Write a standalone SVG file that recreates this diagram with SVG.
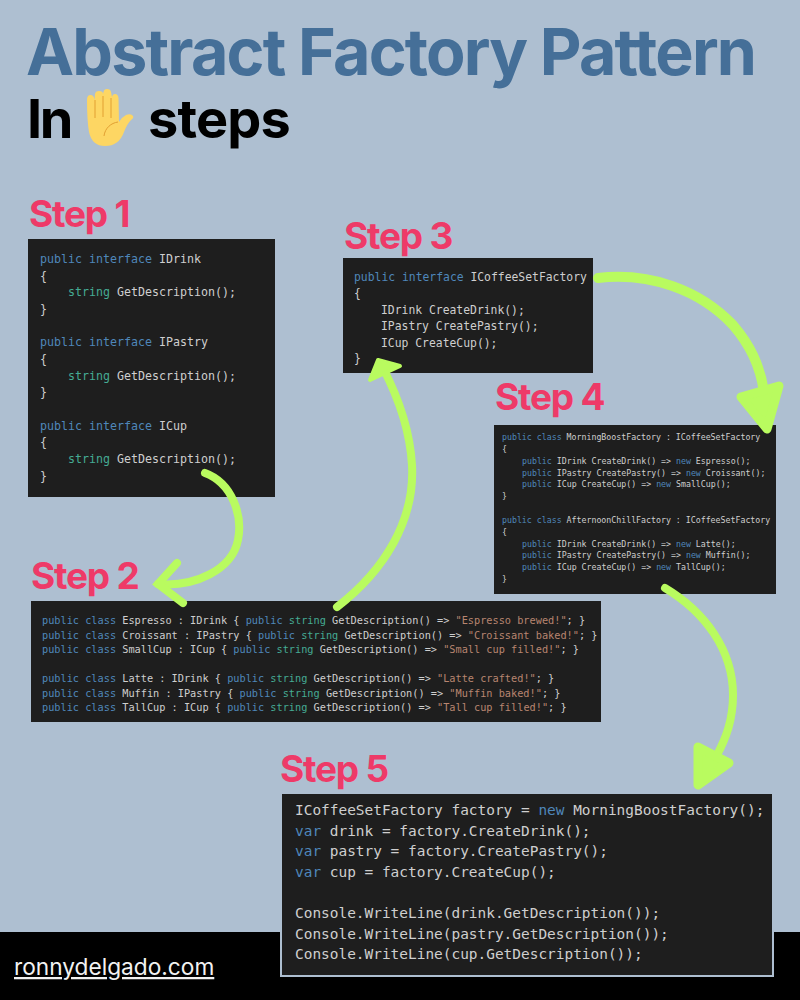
<svg xmlns="http://www.w3.org/2000/svg" width="800" height="1000" viewBox="0 0 800 1000">
<style>
.title{font-family:Inter,"Liberation Sans",sans-serif;font-weight:700}
.step{font-family:Inter,"Liberation Sans",sans-serif;font-weight:700;font-size:37px;fill:#ee3a68;letter-spacing:-1.2px}
.panel{fill:#1e1e1e}
.code{font-family:"DejaVu Sans Mono",monospace;fill:#cfcfcf;white-space:pre}
.c1{font-size:11.63px}.c1b{font-size:11.38px}.c2{font-size:10.26px}.c3{font-size:8.25px}.c4{font-size:14.45px}
.k{fill:#4f87ba}.t{fill:#45ab94}.s{fill:#b88570}
.arc{fill:none;stroke:#b9fb5f;stroke-linecap:round}
.head{fill:#b9fb5f;stroke:#b9fb5f;stroke-linejoin:round}
</style>
<rect width="800" height="1000" fill="#aebfd1"/>
<rect y="932" width="800" height="68" fill="#000"/>
<text class="title" x="26" y="75" font-size="64.5" fill="#456f98" letter-spacing="-1.8">Abstract Factory Pattern</text>
<g id="heading">
<text class="title" x="27" y="138" font-size="54" fill="#000" letter-spacing="-2.500">In</text>
<path d="M87 100Q87 95 90.500 95Q94 95 94.500 100L95 94Q95.500 91 99 91Q103 91 103 94L103.500 92Q104 89 107 89Q110.500 89 111 92L112 97Q112.500 94 115 94Q118 94 118.500 98L119 122Q122 117 126 115Q131 113 133 116Q134 118 131 120Q127 124 124 132Q119 146 105 146Q92 146 89 132Q87 120 87 100Z" fill="#fdd663"/>
<path d="M95 100V118M103 96V117M111 98V118M104 136C105 128 111 123 118 122" fill="none" stroke="#e2a032" stroke-width="1"/>
<text class="title" x="148" y="138" font-size="54" fill="#000" letter-spacing="-0.8">steps</text>
</g>
<g id="step1">
<text class="step" x="29" y="227">Step 1</text>
<rect class="panel" x="28" y="239" width="247" height="258"/>
<text class="code c1" x="40" y="263"><tspan class="k">public interface</tspan> IDrink</text>
<text class="code c1" x="40" y="280">{</text>
<text class="code c1" x="68" y="296"><tspan class="t">string</tspan> GetDescription();</text>
<text class="code c1" x="40" y="313">}</text>
<text class="code c1" x="40" y="346"><tspan class="k">public interface</tspan> IPastry</text>
<text class="code c1" x="40" y="363">{</text>
<text class="code c1" x="68" y="380"><tspan class="t">string</tspan> GetDescription();</text>
<text class="code c1" x="40" y="396">}</text>
<text class="code c1" x="40" y="430"><tspan class="k">public interface</tspan> ICup</text>
<text class="code c1" x="40" y="446">{</text>
<text class="code c1" x="68" y="463"><tspan class="t">string</tspan> GetDescription();</text>
<text class="code c1" x="40" y="480">}</text>
</g>
<g id="step2">
<text class="step" x="31" y="588.500">Step 2</text>
<rect class="panel" x="31" y="601" width="570" height="121"/>
<text class="code c2" x="42" y="624"><tspan class="k">public class</tspan> Espresso : IDrink { <tspan class="k">public</tspan> <tspan class="t">string</tspan> GetDescription() =&gt; <tspan class="s">"Espresso brewed!"</tspan>; }</text>
<text class="code c2" x="42" y="638.500"><tspan class="k">public class</tspan> Croissant : IPastry { <tspan class="k">public</tspan> <tspan class="t">string</tspan> GetDescription() =&gt; <tspan class="s">"Croissant baked!"</tspan>; }</text>
<text class="code c2" x="42" y="653"><tspan class="k">public class</tspan> SmallCup : ICup { <tspan class="k">public</tspan> <tspan class="t">string</tspan> GetDescription() =&gt; <tspan class="s">"Small cup filled!"</tspan>; }</text>
<text class="code c2" x="42" y="682"><tspan class="k">public class</tspan> Latte : IDrink { <tspan class="k">public</tspan> <tspan class="t">string</tspan> GetDescription() =&gt; <tspan class="s">"Latte crafted!"</tspan>; }</text>
<text class="code c2" x="42" y="696.500"><tspan class="k">public class</tspan> Muffin : IPastry { <tspan class="k">public</tspan> <tspan class="t">string</tspan> GetDescription() =&gt; <tspan class="s">"Muffin baked!"</tspan>; }</text>
<text class="code c2" x="42" y="711"><tspan class="k">public class</tspan> TallCup : ICup { <tspan class="k">public</tspan> <tspan class="t">string</tspan> GetDescription() =&gt; <tspan class="s">"Tall cup filled!"</tspan>; }</text>
</g>
<g id="step3">
<text class="step" x="344" y="249">Step 3</text>
<rect class="panel" x="343" y="258" width="250" height="115"/>
<text class="code c1b" x="354" y="281"><tspan class="k">public interface</tspan> ICoffeeSetFactory</text>
<text class="code c1b" x="354" y="297">{</text>
<text class="code c1b" x="381" y="314">IDrink CreateDrink();</text>
<text class="code c1b" x="381" y="330">IPastry CreatePastry();</text>
<text class="code c1b" x="381" y="347">ICup CreateCup();</text>
<text class="code c1b" x="354" y="362">}</text>
</g>
<g id="step4">
<text class="step" x="495" y="410">Step 4</text>
<rect class="panel" x="494" y="425" width="282" height="169"/>
<text class="code c3" x="502" y="440"><tspan class="k">public class</tspan> MorningBoostFactory : ICoffeeSetFactory</text>
<text class="code c3" x="502" y="452">{</text>
<text class="code c3" x="522" y="464"><tspan class="k">public</tspan> IDrink CreateDrink() =&gt; <tspan class="k">new</tspan> Espresso();</text>
<text class="code c3" x="522" y="476"><tspan class="k">public</tspan> IPastry CreatePastry() =&gt; <tspan class="k">new</tspan> Croissant();</text>
<text class="code c3" x="522" y="487"><tspan class="k">public</tspan> ICup CreateCup() =&gt; <tspan class="k">new</tspan> SmallCup();</text>
<text class="code c3" x="502" y="499">}</text>
<text class="code c3" x="502" y="523"><tspan class="k">public class</tspan> AfternoonChillFactory : ICoffeeSetFactory</text>
<text class="code c3" x="502" y="535">{</text>
<text class="code c3" x="522" y="547"><tspan class="k">public</tspan> IDrink CreateDrink() =&gt; <tspan class="k">new</tspan> Latte();</text>
<text class="code c3" x="522" y="558"><tspan class="k">public</tspan> IPastry CreatePastry() =&gt; <tspan class="k">new</tspan> Muffin();</text>
<text class="code c3" x="522" y="570"><tspan class="k">public</tspan> ICup CreateCup() =&gt; <tspan class="k">new</tspan> TallCup();</text>
<text class="code c3" x="502" y="582">}</text>
</g>
<g id="step5">
<text class="step" x="280" y="782">Step 5</text>
<rect x="280" y="792" width="494" height="185" fill="#aebfd1"/>
<rect class="panel" x="282" y="794" width="490" height="181"/>
<text class="code c4" x="295" y="815">ICoffeeSetFactory factory = <tspan class="k">new</tspan> MorningBoostFactory();</text>
<text class="code c4" x="295" y="836"><tspan class="k">var</tspan> drink = factory.CreateDrink();</text>
<text class="code c4" x="295" y="856"><tspan class="k">var</tspan> pastry = factory.CreatePastry();</text>
<text class="code c4" x="295" y="877"><tspan class="k">var</tspan> cup = factory.CreateCup();</text>
<text class="code c4" x="295" y="918">Console.WriteLine(drink.GetDescription());</text>
<text class="code c4" x="295" y="939">Console.WriteLine(pastry.GetDescription());</text>
<text class="code c4" x="295" y="959">Console.WriteLine(cup.GetDescription());</text>
</g>
<g id="footer">
<text x="14" y="975" font-family="Inter,'Liberation Sans',sans-serif" font-size="22.700" fill="#f2f2f2" text-decoration="underline">ronnydelgado.com</text>
</g>
<g id="connectors">
<path class="arc" stroke-width="8" d="M205 473C232 483 243 515 238 540C232 570 195 587 158 584"/>
<path class="arc" stroke-width="8" d="M177 563L158 584L183 603"/>
<path class="arc" stroke-width="8" d="M337 607C385 570 415 520 412 465C410 430 397 395 383 368"/>
<path class="head" stroke-width="4" d="M378 360L370 380L400 366Z"/>
<path class="arc" stroke-width="10" d="M598 278C650 272 700 290 733 325C750 345 760 365 764 392"/>
<path class="head" stroke-width="9" d="M741 397L779 386L767 429Z"/>
<path class="arc" stroke-width="8" d="M665 588C705 612 733 650 733 695C733 720 726 738 717 755"/>
<path class="head" stroke-width="9" d="M698 747L729 763L698 785Z"/>
</g>
</svg>
